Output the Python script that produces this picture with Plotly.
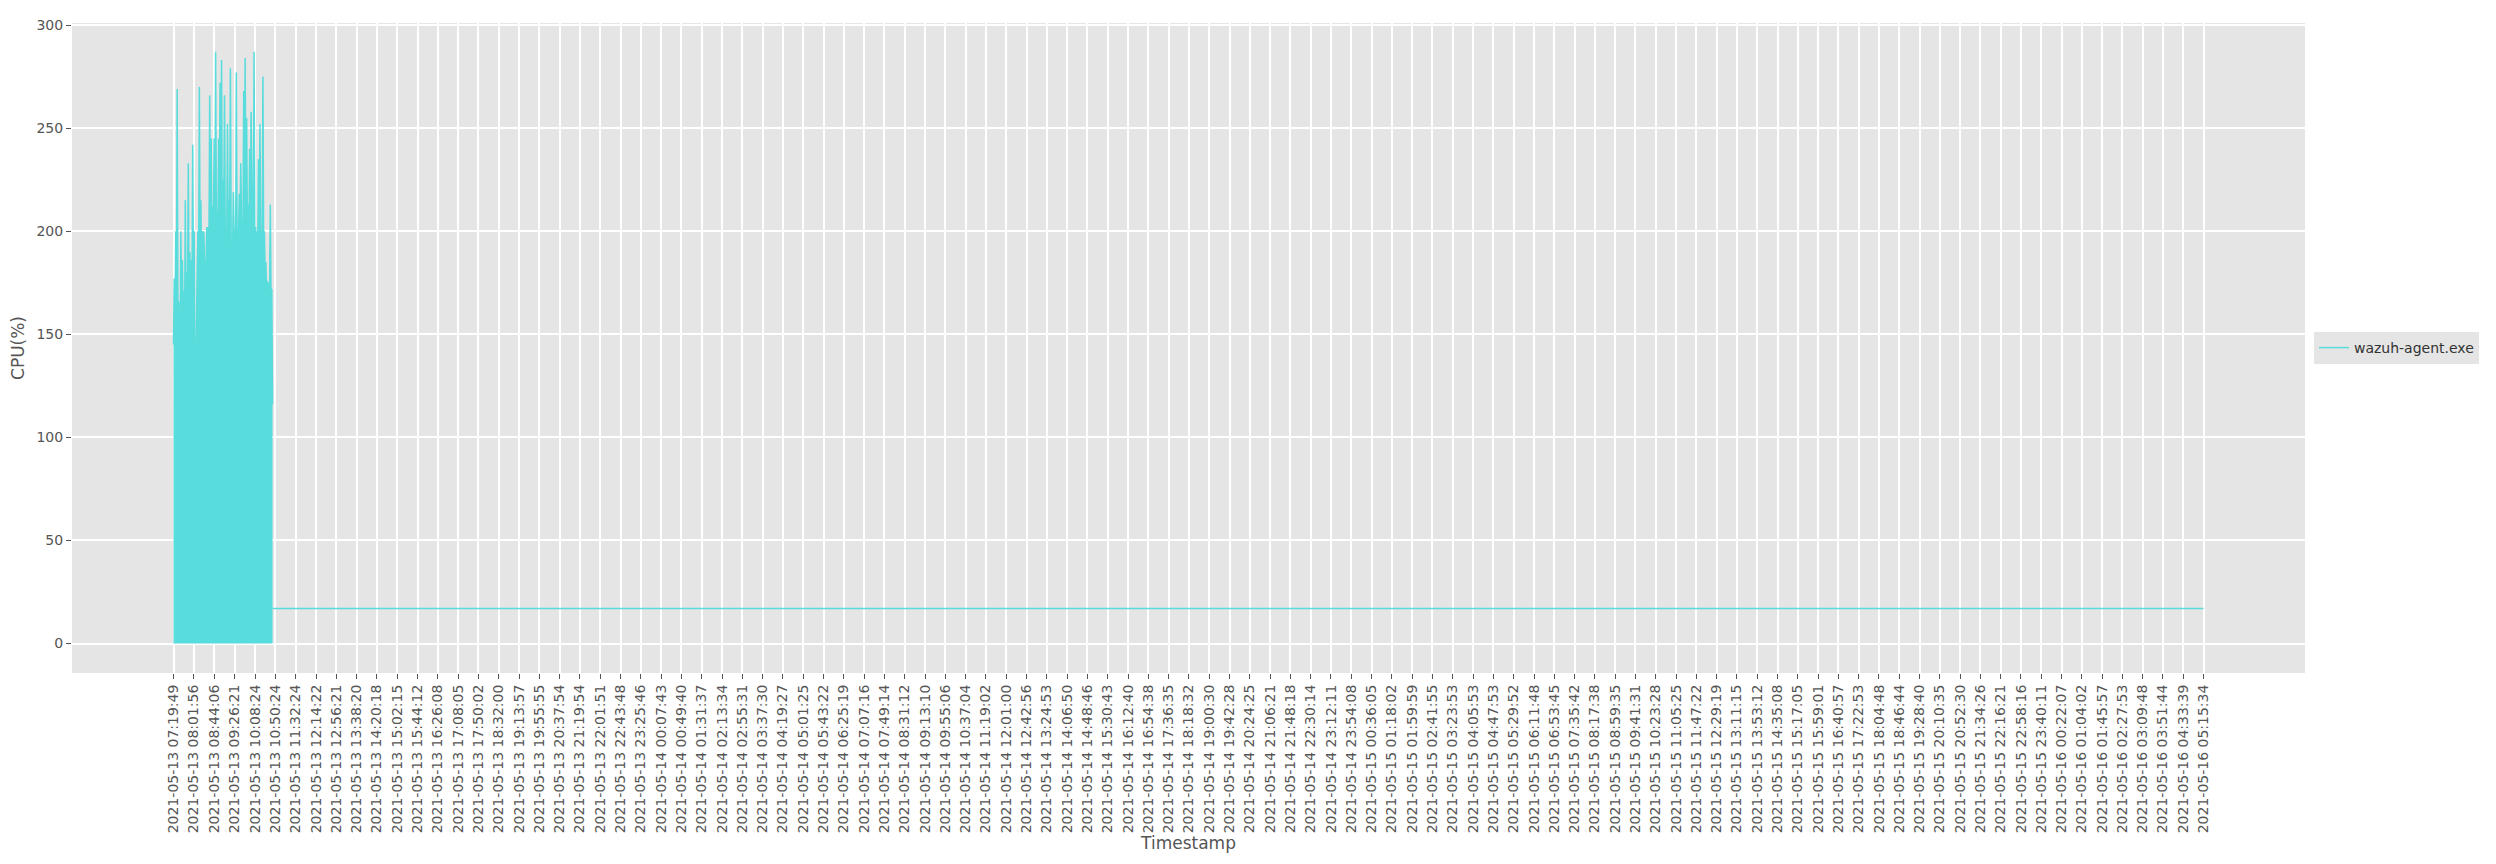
"""CPU usage of wazuh-agent.exe over time, ggplot-like look."""

import pandas as pd
import plotly.graph_objects as go

_LINE_COLOR = "#58DCDC"
_BG = "#E5E5E5"
_TXT = "#555555"
_FONT = "DejaVu Sans"

PROCESS_NAME = "wazuh-agent.exe"

# burst period at the start (one value per sample)
SPIKE_START = "2021-05-13 07:19:49"
SPIKE_END = "2021-05-13 10:44:30"
spike_cpu = [
    145, 177, 152, 200, 168, 269, 160, 166, 148, 150, 200, 158, 186, 162, 171,
    150, 215, 165, 180, 160, 233, 170, 190, 175, 186, 168, 242, 172, 200, 115,
    130, 166, 178, 200, 185, 270, 190, 215, 185, 200, 178, 200, 168, 166, 185,
    202, 190, 202, 195, 266, 190, 245, 200, 212, 198, 245, 205, 287, 200, 210,
    196, 245, 205, 272, 210, 283, 200, 225, 205, 266, 200, 200, 190, 252, 205,
    215, 198, 279, 195, 186, 190, 219, 200, 200, 185, 277, 200, 200, 198, 218,
    200, 233, 205, 200, 195, 268, 210, 284, 205, 255, 200, 213, 195, 240, 205,
    258, 200, 200, 190, 287, 200, 202, 196, 200, 190, 235, 200, 252, 198, 200,
    185, 275, 195, 200, 180, 185, 170, 176, 165, 175, 170, 213, 168, 172, 116,
]

# flat period afterwards
flat_times = ["2021-05-13 10:45:00", "2021-05-16 05:15:34"]
flat_cpu = [17, 17]

tick_labels = [
    "2021-05-13 07:19:49", "2021-05-13 08:01:56", "2021-05-13 08:44:06",
    "2021-05-13 09:26:21", "2021-05-13 10:08:24", "2021-05-13 10:50:24",
    "2021-05-13 11:32:24", "2021-05-13 12:14:22", "2021-05-13 12:56:21",
    "2021-05-13 13:38:20", "2021-05-13 14:20:18", "2021-05-13 15:02:15",
    "2021-05-13 15:44:12", "2021-05-13 16:26:08", "2021-05-13 17:08:05",
    "2021-05-13 17:50:02", "2021-05-13 18:32:00", "2021-05-13 19:13:57",
    "2021-05-13 19:55:55", "2021-05-13 20:37:54", "2021-05-13 21:19:54",
    "2021-05-13 22:01:51", "2021-05-13 22:43:48", "2021-05-13 23:25:46",
    "2021-05-14 00:07:43", "2021-05-14 00:49:40", "2021-05-14 01:31:37",
    "2021-05-14 02:13:34", "2021-05-14 02:55:31", "2021-05-14 03:37:30",
    "2021-05-14 04:19:27", "2021-05-14 05:01:25", "2021-05-14 05:43:22",
    "2021-05-14 06:25:19", "2021-05-14 07:07:16", "2021-05-14 07:49:14",
    "2021-05-14 08:31:12", "2021-05-14 09:13:10", "2021-05-14 09:55:06",
    "2021-05-14 10:37:04", "2021-05-14 11:19:02", "2021-05-14 12:01:00",
    "2021-05-14 12:42:56", "2021-05-14 13:24:53", "2021-05-14 14:06:50",
    "2021-05-14 14:48:46", "2021-05-14 15:30:43", "2021-05-14 16:12:40",
    "2021-05-14 16:54:38", "2021-05-14 17:36:35", "2021-05-14 18:18:32",
    "2021-05-14 19:00:30", "2021-05-14 19:42:28", "2021-05-14 20:24:25",
    "2021-05-14 21:06:21", "2021-05-14 21:48:18", "2021-05-14 22:30:14",
    "2021-05-14 23:12:11", "2021-05-14 23:54:08", "2021-05-15 00:36:05",
    "2021-05-15 01:18:02", "2021-05-15 01:59:59", "2021-05-15 02:41:55",
    "2021-05-15 03:23:53", "2021-05-15 04:05:53", "2021-05-15 04:47:53",
    "2021-05-15 05:29:52", "2021-05-15 06:11:48", "2021-05-15 06:53:45",
    "2021-05-15 07:35:42", "2021-05-15 08:17:38", "2021-05-15 08:59:35",
    "2021-05-15 09:41:31", "2021-05-15 10:23:28", "2021-05-15 11:05:25",
    "2021-05-15 11:47:22", "2021-05-15 12:29:19", "2021-05-15 13:11:15",
    "2021-05-15 13:53:12", "2021-05-15 14:35:08", "2021-05-15 15:17:05",
    "2021-05-15 15:59:01", "2021-05-15 16:40:57", "2021-05-15 17:22:53",
    "2021-05-15 18:04:48", "2021-05-15 18:46:44", "2021-05-15 19:28:40",
    "2021-05-15 20:10:35", "2021-05-15 20:52:30", "2021-05-15 21:34:26",
    "2021-05-15 22:16:21", "2021-05-15 22:58:16", "2021-05-15 23:40:11",
    "2021-05-16 00:22:07", "2021-05-16 01:04:02", "2021-05-16 01:45:57",
    "2021-05-16 02:27:53", "2021-05-16 03:09:48", "2021-05-16 03:51:44",
    "2021-05-16 04:33:39", "2021-05-16 05:15:34",
]

y_ticks = [0, 50, 100, 150, 200, 250, 300]

spike_times = pd.date_range(SPIKE_START, SPIKE_END, periods=len(spike_cpu))

fig = go.Figure()
fig.add_trace(go.Scatter(
    x=spike_times, y=spike_cpu, mode="lines",
    line=dict(color=_LINE_COLOR, width=1.5),
    fill="tozeroy", fillcolor=_LINE_COLOR,
    legendgroup="p", showlegend=False,
))
fig.add_trace(go.Scatter(
    x=pd.to_datetime(flat_times), y=flat_cpu, mode="lines",
    line=dict(color=_LINE_COLOR, width=1.5),
    legendgroup="p", name=PROCESS_NAME,
))

# matplotlib-style 5% margins around the data
t0 = pd.Timestamp(tick_labels[0])
t1 = pd.Timestamp(tick_labels[-1])
pad = (t1 - t0) * 0.05

# page body adds 8px around the figure, so the figure is 16px smaller
fig.update_layout(
    width=2480, height=848,
    margin=dict(l=64, r=176, t=9, b=179),
    paper_bgcolor="white",
    plot_bgcolor=_BG,
    font=dict(family=_FONT, size=14, color=_TXT),
    legend=dict(
        x=1.004, y=0.5, xanchor="left", yanchor="middle",
        bgcolor=_BG, borderwidth=0,
        font=dict(family=_FONT, size=14, color="#333333"),
    ),
)
fig.update_xaxes(
    type="date",
    range=[t0 - pad, t1 + pad],
    tickvals=tick_labels, ticktext=tick_labels,
    tickangle=-90,
    tickfont=dict(size=14, color=_TXT),
    ticks="outside", ticklen=5, tickcolor=_TXT,
    showgrid=True, gridcolor="white", gridwidth=1.5,
    zeroline=False, showline=False,
    title=dict(text="Timestamp", font=dict(size=17, color=_TXT), standoff=2),
)
fig.update_yaxes(
    range=[-14.3, 301],
    tickvals=y_ticks,
    tickfont=dict(size=14, color=_TXT),
    ticks="outside", ticklen=5, tickcolor=_TXT,
    showgrid=True, gridcolor="white", gridwidth=1.5,
    zeroline=False, showline=False,
    title=dict(text="CPU(%)", font=dict(size=17, color=_TXT), standoff=8),
)

fig.write_html("out.html")
